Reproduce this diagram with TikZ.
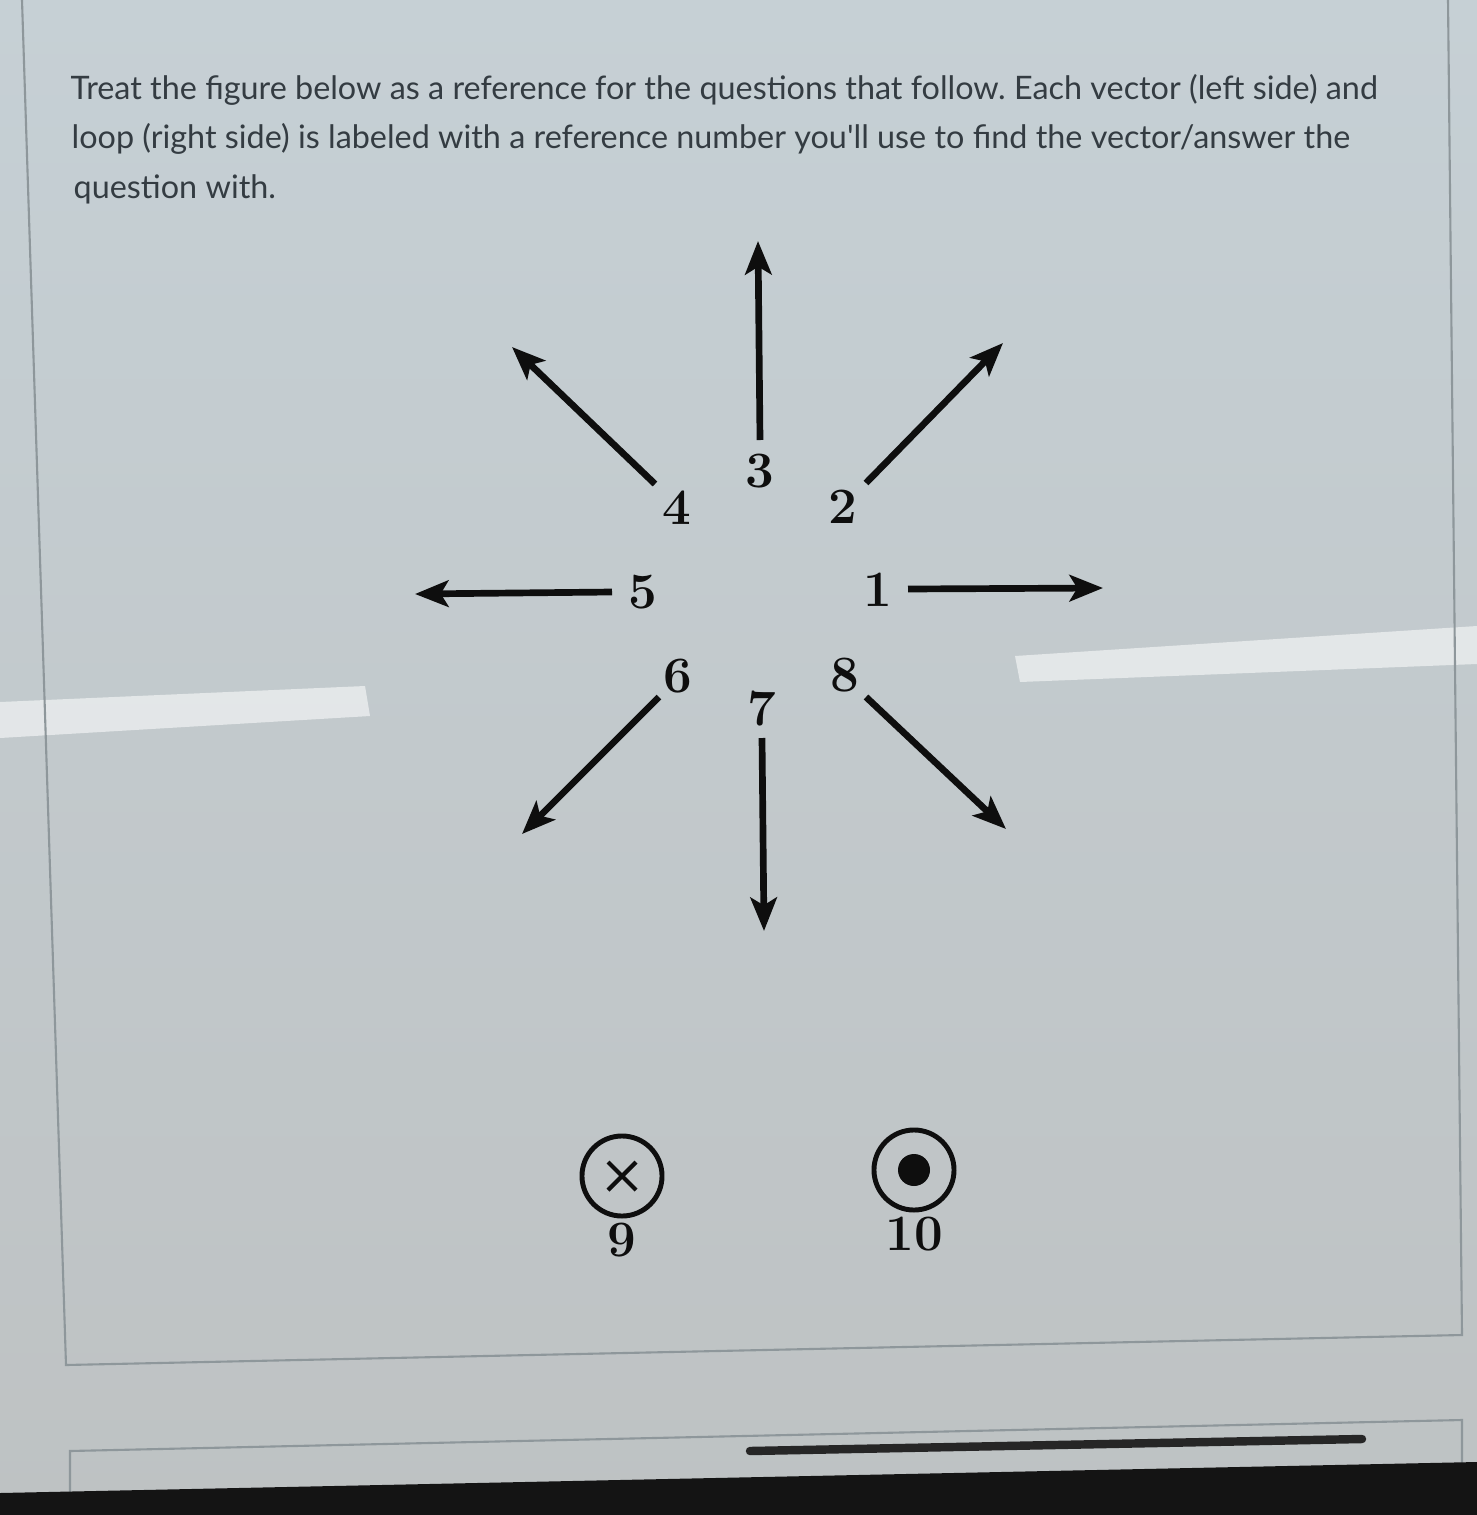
\documentclass[tikz,border=0pt]{standalone}
\usepackage{fontspec}
\newfontfamily\latofont{Lato}
\usetikzlibrary{arrows.meta}
\frenchspacing
\definecolor{bgtop}{HTML}{C6D0D5}
\definecolor{bgbot}{HTML}{BEC2C3}
\definecolor{txt}{HTML}{343C42}
\definecolor{frame}{HTML}{8E979B}
\definecolor{ink}{HTML}{0E0E0E}
\tikzset{
  vec/.style={line width=1.9pt, draw=ink, -{Stealth[length=9.5pt,width=7.5pt,inset=2.2pt]}},
  num/.style={font=\fontsize{14.5}{15}\selectfont\bfseries, text=ink, inner sep=0pt},
  para/.style={font=\latofont\fontsize{9.2}{11}\selectfont, text=txt, anchor=base west, inner sep=0pt},
  loopc/.style={circle, draw=ink, line width=1.4pt, minimum size=0.8cm, inner sep=0pt},
}
\begin{document}
\begin{tikzpicture}[x=0.01cm,y=-0.01cm]
\useasboundingbox (0,0) rectangle (1477,1515);
% background
\shade[top color=bgtop, bottom color=bgbot] (0,0) rectangle (1477,1515);
% glare stripes
\fill[white, opacity=0.55] (0,702) -- (365,686) -- (370,716) -- (0,738) -- cycle;
\fill[white, opacity=0.55] (1015,656) -- (1477,626) -- (1477,664) -- (1020,682) -- cycle;
% frames
\draw[frame, line width=0.6pt] (22,0) -- (66,1365) -- (1462,1335) -- (1448,0);
\draw[frame, line width=0.6pt] (70,1515) -- (70,1451) -- (1462,1420) -- (1462,1515);
% bottom dark bar and scroll bar
\fill[black!92] (0,1493) -- (1477,1462) -- (1477,1515) -- (0,1515) -- cycle;
\draw[black!85, line width=2.4pt, line cap=round] (750,1451) -- (1362,1439);
% paragraph
\node[para] (l1) at (70,99) {Treat the figure below as a reference for the questions that follow. Each vector (left side) and};
\node[para] (l2) at (71,148) {loop (right side) is labeled with a reference number you'll use to find the vector/answer the};
\node[para] (l3) at (73,198) {question with.};
% vector endpoints
\coordinate (s1) at (908,589); \coordinate (e1) at (1103,588);
\coordinate (s2) at (866,483); \coordinate (e2) at (1003,343);
\coordinate (s3) at (760,440); \coordinate (e3) at (758,241);
\coordinate (s4) at (655,484); \coordinate (e4) at (512,347);
\coordinate (s5) at (612,592); \coordinate (e5) at (415,594);
\coordinate (s6) at (659,697); \coordinate (e6) at (522,834);
\coordinate (s7) at (762,738); \coordinate (e7) at (764,931);
\coordinate (s8) at (866,697); \coordinate (e8) at (1006,829);
\foreach \i in {1,...,8} {\draw[vec] (s\i) -- (e\i);}
% vector labels
\node[num] (n1) at (878,590) {1};
\node[num] (n2) at (843,507) {2};
\node[num] (n3) at (760,471) {3};
\node[num] (n4) at (677,508) {4};
\node[num] (n5) at (643,592) {5};
\node[num] (n6) at (678,676) {6};
\node[num] (n7) at (762,709) {7};
\node[num] (n8) at (845,675) {8};
% loops
\node[loopc] (c9) at (622,1176) {};
\draw[ink, line width=1.2pt] ([shift={(-14,-14)}]c9.center) -- ([shift={(14,14)}]c9.center)
  ([shift={(-14,14)}]c9.center) -- ([shift={(14,-14)}]c9.center);
\node[loopc] (c10) at (914,1170) {};
\fill[ink] (c10.center) circle[radius=16];
\node[num] (n9) at (622,1240) {9};
\node[num] (n10) at (914,1234) {10};
\end{tikzpicture}
\end{document}
